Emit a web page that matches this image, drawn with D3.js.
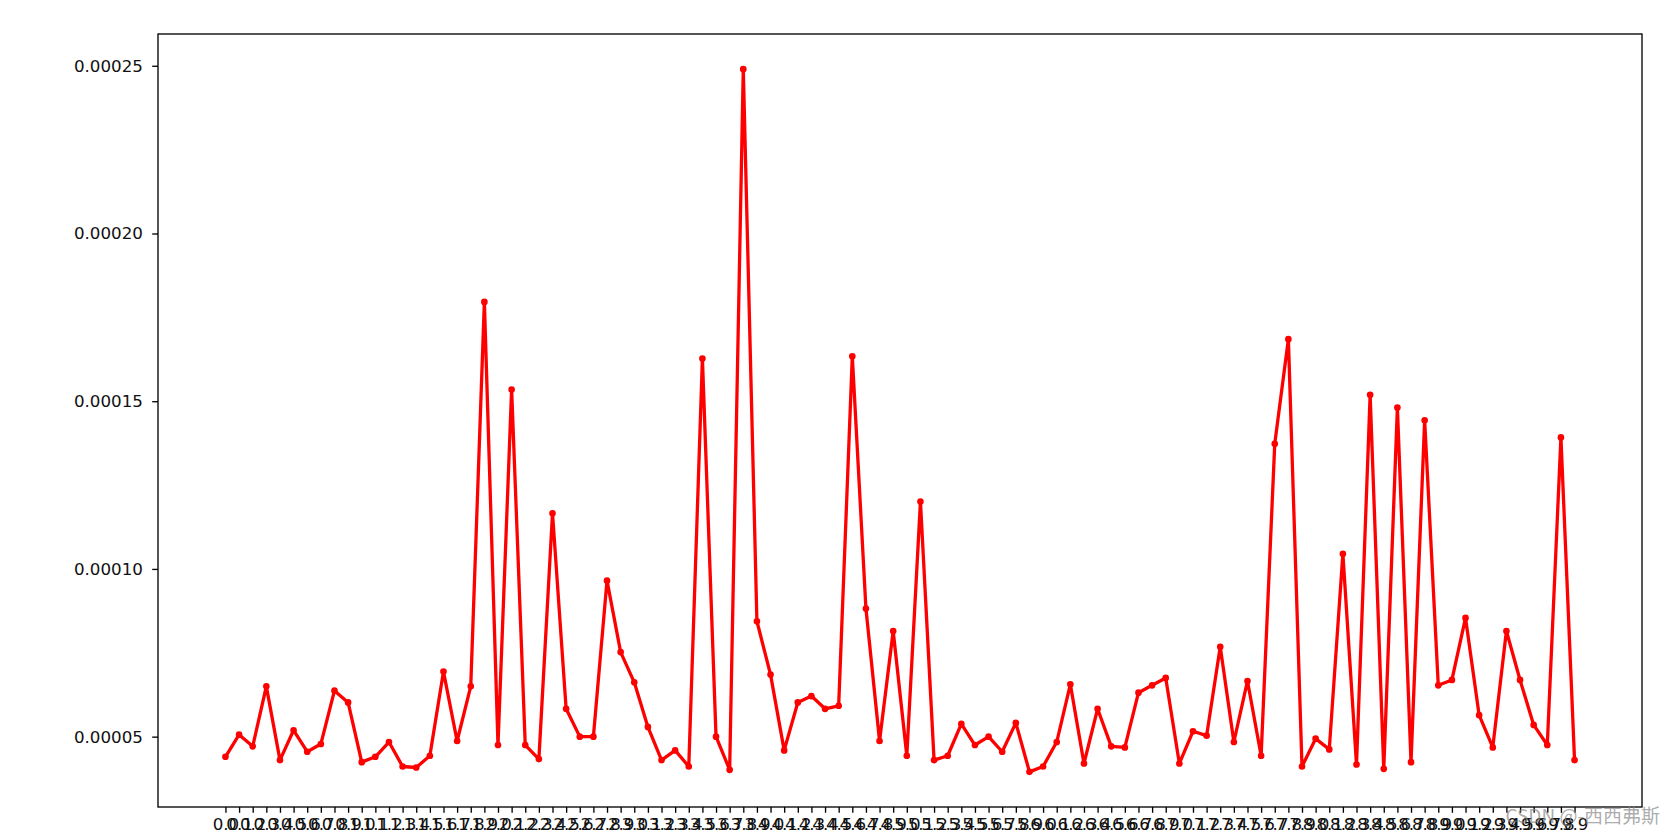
<!DOCTYPE html>
<html>
<head>
<meta charset="utf-8">
<script src="https://cdn.jsdelivr.net/npm/d3@7"></script>
<style>
  body { margin: 0; background: #fff; }
  svg text { font-family: "DejaVu Sans", sans-serif; }
</style>
</head>
<body>
<div class="chart"></div>
<script>
// values, one per x tick
const values = [
  0.0000440, 0.0000506, 0.0000471, 0.0000650, 0.0000430, 0.0000519, 0.0000455, 0.0000478, 0.0000637, 0.0000602,
  0.0000424, 0.0000440, 0.0000484, 0.0000411, 0.0000408, 0.0000443, 0.0000694, 0.0000487, 0.0000650, 0.0001796,
  0.0000475, 0.0001535, 0.0000475, 0.0000433, 0.0001166, 0.0000583, 0.0000500, 0.0000500, 0.0000965, 0.0000752,
  0.0000662, 0.0000529, 0.0000430, 0.0000459, 0.0000411, 0.0001627, 0.0000500, 0.0000401, 0.0002490, 0.0000844,
  0.0000685, 0.0000459, 0.0000602, 0.0000621, 0.0000583, 0.0000592, 0.0001634, 0.0000882, 0.0000487, 0.0000815,
  0.0000443, 0.0001201, 0.0000430, 0.0000443, 0.0000538, 0.0000475, 0.0000500, 0.0000455, 0.0000541, 0.0000395,
  0.0000411, 0.0000484, 0.0000656, 0.0000420, 0.0000583, 0.0000471, 0.0000468, 0.0000631, 0.0000653, 0.0000675,
  0.0000420, 0.0000516, 0.0000503, 0.0000768, 0.0000484, 0.0000666, 0.0000443, 0.0001373, 0.0001685, 0.0000411,
  0.0000494, 0.0000462, 0.0001045, 0.0000417, 0.0001519, 0.0000404, 0.0001481, 0.0000424, 0.0001443, 0.0000653,
  0.0000669, 0.0000854, 0.0000564, 0.0000468, 0.0000815, 0.0000669, 0.0000535, 0.0000475, 0.0001392, 0.0000430
];

const xLabels = [
  "0.0", "0.1", "0.2", "0.3", "0.4", "0.5", "0.6", "0.7", "0.8", "0.9",
  "1.0", "1.1", "1.2", "1.3", "1.4", "1.5", "1.6", "1.7", "1.8", "1.9",
  "2.0", "2.1", "2.2", "2.3", "2.4", "2.5", "2.6", "2.7", "2.8", "2.9",
  "3.0", "3.1", "3.2", "3.3", "3.4", "3.5", "3.6", "3.7", "3.8", "3.9",
  "4.0", "4.1", "4.2", "4.3", "4.4", "4.5", "4.6", "4.7", "4.8", "4.9",
  "5.0", "5.1", "5.2", "5.3", "5.4", "5.5", "5.6", "5.7", "5.8", "5.9",
  "6.0", "6.1", "6.2", "6.3", "6.4", "6.5", "6.6", "6.7", "6.8", "6.9",
  "7.0", "7.1", "7.2", "7.3", "7.4", "7.5", "7.6", "7.7", "7.8", "7.9",
  "8.0", "8.1", "8.2", "8.3", "8.4", "8.5", "8.6", "8.7", "8.8", "8.9",
  "9.0", "9.1", "9.2", "9.3", "9.4", "9.5", "9.6", "9.7", "9.8", "9.9"
];

const yTicks = [0.00005, 0.0001, 0.00015, 0.0002, 0.00025];
const yTickLabels = ["0.00005", "0.00010", "0.00015", "0.00020", "0.00025"];

const watermark = "CSDN @-西西弗斯";

let width = 1675, height = 834;
let margin = {top: 34, right: 33, bottom: 27, left: 158};
let fontSize = 16.7;

let svg = d3.select(".chart").append("svg")
    .attr("width", width)
    .attr("height", height);

// matplotlib style 5% padding on both axes
let n = values.length;
let x = d3.scaleLinear()
    .domain([-0.05 * (n - 1), (n - 1) * 1.05])
    .range([margin.left, width - margin.right]);

let ymin = d3.min(values), ymax = d3.max(values);
let pad = (ymax - ymin) * 0.05;
let y = d3.scaleLinear()
    .domain([ymin - pad, ymax + pad])
    .range([height - margin.bottom, margin.top]);

let xAxis = d3.axisBottom(x)
    .tickValues(d3.range(n))
    .tickFormat(i => xLabels[i])
    .tickSize(5.8)
    .tickPadding(5);

let yAxis = d3.axisLeft(y)
    .tickValues(yTicks)
    .tickFormat((d, i) => yTickLabels[i])
    .tickSize(5.8)
    .tickPadding(9.3);

let gx = svg.append("g")
    .attr("transform", "translate(0," + (height - margin.bottom) + ")")
    .call(xAxis);

let gy = svg.append("g")
    .attr("transform", "translate(" + margin.left + ",0)")
    .call(yAxis);

[gx, gy].forEach(g => {
  g.select(".domain").remove();
  g.selectAll(".tick line").attr("stroke", "#000").attr("stroke-width", 1.33);
  g.selectAll(".tick text")
    .attr("fill", "#111")
    .style("font-size", fontSize + "px")
    .style("font-family", "'DejaVu Sans', sans-serif");
});

let line = d3.line()
    .x((d, i) => x(i))
    .y(d => y(d));

svg.append("path")
    .datum(values)
    .attr("fill", "none")
    .attr("stroke", "#ff0000")
    .attr("stroke-width", 3.3)
    .attr("stroke-linejoin", "round")
    .attr("d", line);

svg.selectAll(".dot")
    .data(values)
    .enter().append("circle")
    .attr("class", "dot")
    .attr("cx", (d, i) => x(i))
    .attr("cy", d => y(d))
    .attr("r", 2.5)
    .attr("fill", "#ff0000")
    .attr("stroke", "#ff0000")
    .attr("stroke-width", 1.67);

// axes frame
svg.append("rect")
    .attr("x", margin.left)
    .attr("y", margin.top)
    .attr("width", width - margin.left - margin.right)
    .attr("height", height - margin.top - margin.bottom)
    .attr("fill", "none")
    .attr("stroke", "#000")
    .attr("stroke-width", 1.33);

svg.append("text")
    .attr("x", 1660)
    .attr("y", 823)
    .attr("text-anchor", "end")
    .attr("fill", "#888")
    .attr("fill-opacity", 0.7)
    .style("font-size", "19px")
    .style("font-family", "'Noto Sans CJK SC', 'DejaVu Sans', sans-serif")
    .text(watermark);
</script>
</body>
</html>
